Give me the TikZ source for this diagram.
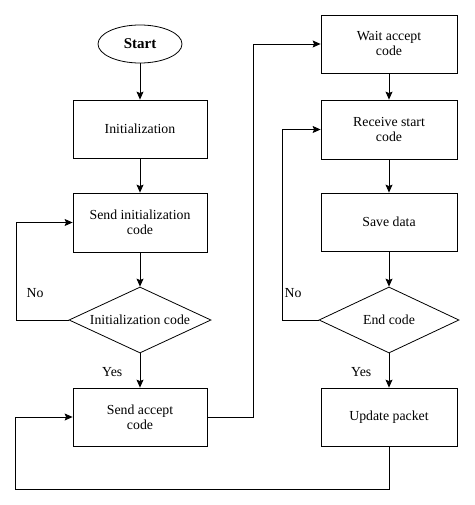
\documentclass[tikz,border=0pt]{standalone}
\usepackage{fontspec}
\setmainfont{Liberation Serif}
\usetikzlibrary{shapes.geometric,arrows.meta}
\tikzset{
  stepbox/.style={draw,thick,rectangle,minimum width=134pt,minimum height=58pt,align=center,inner sep=0pt},
  testbox/.style={draw,thick,diamond,aspect=2.15,minimum width=142pt,minimum height=66pt,inner sep=0pt},
  flow/.style={thick,-{Stealth[length=8pt,width=7pt,inset=1.5pt]}},
  link/.style={thick}
}
\begin{document}
\begin{tikzpicture}[x=1pt,y=-1pt,font=\fontsize{13.8}{15}\selectfont,line width=0.8pt]
	\useasboundingbox (0,0) rectangle (474,505);
	% left column
	\node[draw,thick,ellipse,minimum width=84pt,minimum height=38pt,inner sep=0pt,font=\fontsize{15}{18}\selectfont\bfseries] (start) at (140,44) {Start};
	\node[stepbox] (init) at (140,129) {Initialization};
	\node[stepbox,minimum height=59pt] (sendinit) at (140,222.5) {Send initialization\\code};
	\node[testbox] (initcode) at (140,320) {Initialization code};
	\node[stepbox] (sendacc) at (140,417) {Send accept\\code};
	% right column
	\node[stepbox,minimum width=136pt] (wait) at (389,44) {Wait accept\\code};
	\node[stepbox,minimum width=136pt,minimum height=59pt] (recv) at (389,129.5) {Receive start\\code};
	\node[stepbox,minimum width=136pt] (save) at (389,222) {Save data};
	\node[testbox,minimum width=140pt] (endcode) at (389,320) {End code};
	\node[stepbox,minimum width=136pt] (update) at (389,417) {Update packet};
	% bend points
	\coordinate (noleft) at (16,320);
	\coordinate (noright) at (282,320);
	\coordinate (across) at (253,417);
	\coordinate (bottom) at (15,489);
	% connectors
	\draw[flow] (start) -- (init);
	\draw[flow] (init) -- (sendinit);
	\draw[flow] (sendinit) -- (initcode);
	\draw[flow] (initcode) -- (sendacc) node[pos=0.55,anchor=east,xshift=-14pt] {Yes};
	\draw[flow] (initcode.west) -- (noleft) |- (sendinit.west);
	\draw[flow] (sendacc.east) -- (across) |- (wait.west);
	\draw[flow] (wait) -- (recv);
	\draw[flow] (recv) -- (save);
	\draw[flow] (save) -- (endcode);
	\draw[flow] (endcode) -- (update) node[pos=0.55,anchor=east,xshift=-14pt] {Yes};
	\draw[flow] (endcode.west) -- (noright) |- (recv.west);
	\draw[flow] (update.south) |- (bottom) |- (sendacc.west);
	% labels
	\node (noA) at (35,293) {No};
	\node (noB) at (293,293) {No};
\end{tikzpicture}
\end{document}
